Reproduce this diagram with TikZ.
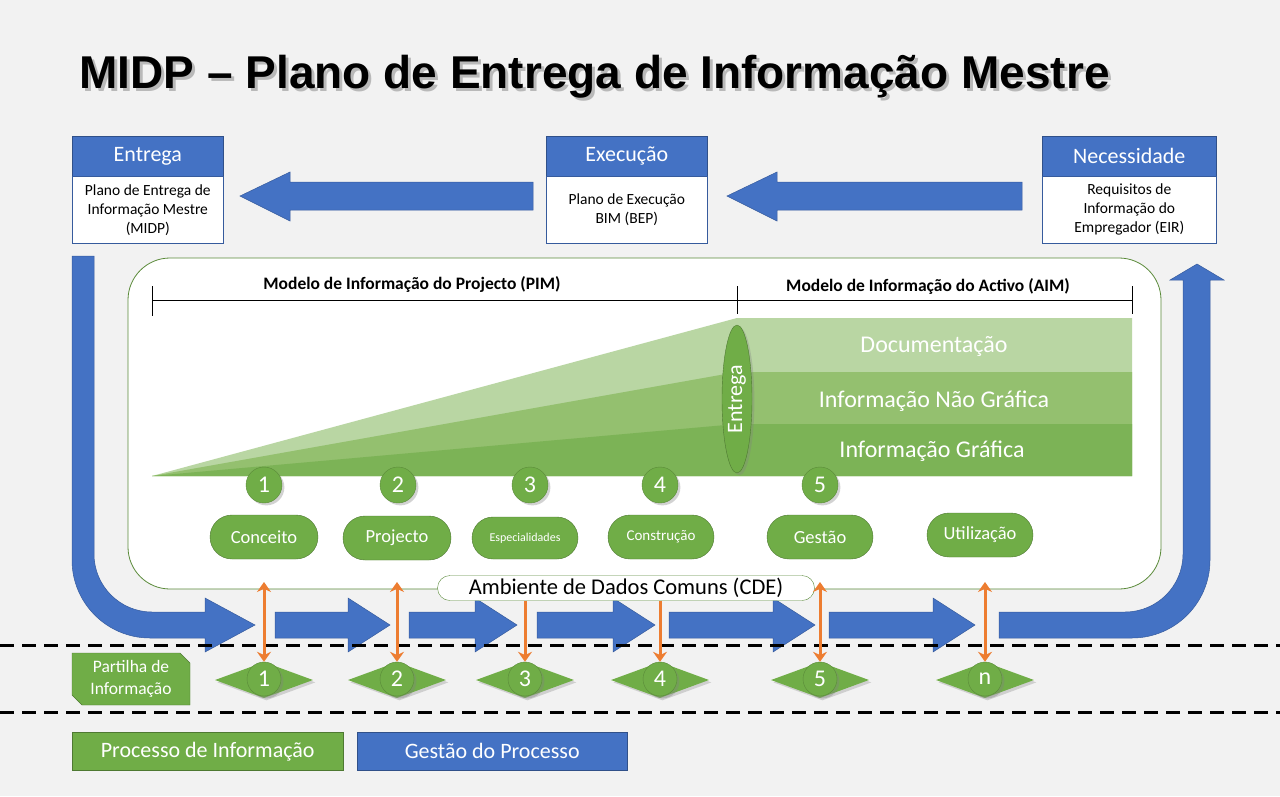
\documentclass[tikz,border=0pt]{standalone}
\usepackage{fontspec}
\setmainfont{Carlito}
\newfontfamily\titlef{Liberation Sans}
\usetikzlibrary{shapes.geometric,shapes.misc,arrows.meta,shadows}
\definecolor{bl}{HTML}{4472C4}
\definecolor{gr}{HTML}{70AD47}
\definecolor{gL}{HTML}{B9D6A3}
\definecolor{gM}{HTML}{94C06F}
\definecolor{gD}{HTML}{7CB356}
\definecolor{org}{HTML}{ED7D31}
\definecolor{bg}{HTML}{F2F2F2}
\begin{document}
\begin{tikzpicture}[x=1pt,y=-1pt,
  hdr/.style={fill=bl,draw=bl!70!black,line width=0.6pt,text=white,font=\fontsize{22}{24}\selectfont,minimum height=40pt,anchor=north west,inner sep=0pt},
  body/.style={fill=white,draw=bl!80!black,line width=0.6pt,font=\fontsize{15.5}{19}\selectfont,align=center,anchor=north west,inner sep=0pt},
  num/.style={circle,fill=gr,draw=gr!80!black,text=white,minimum size=36pt,inner sep=0pt,font=\fontsize{24}{24}\selectfont,drop shadow={opacity=0.35}},
  pill/.style={rounded rectangle,fill=gr,draw=gr!70!black,text=white,minimum height=44pt,inner sep=0pt,font=\fontsize{18.5}{20}\selectfont},
  dia/.style={diamond,fill=gr,minimum width=98pt,minimum height=36pt,inner sep=0pt,aspect=2.7,drop shadow={opacity=0.3}},
  oa/.style={org,line width=3pt,{Stealth[length=10pt,width=14pt]}-{Stealth[length=10pt,width=14pt]}},
  os/.style={org,line width=3pt,-{Stealth[length=10pt,width=14pt]}},
  blf/.style={fill=bl,draw=bl!80!black,line width=0.5pt},
  ttl/.style={anchor=west,font=\titlef\bfseries\fontsize{46}{50}\selectfont}]
\fill[bg] (0,0) rectangle (1280,796);
\useasboundingbox (0,0) rectangle (1280,796);
% title
\node[ttl,text=gray!55] (tsh) at (79,80) {MIDP – Plano de Entrega de Informação Mestre};
\node[ttl] (title) at (76,77) {MIDP – Plano de Entrega de Informação Mestre};
% top boxes
\node[hdr,minimum width=151pt] (eh) at (72,136) {Entrega};
\node[body,minimum width=151pt,minimum height=67pt] (eb) at (72,176) {Plano de Entrega de\\Informação Mestre\\(MIDP)};
\node[hdr,minimum width=161pt] (xh) at (546,136) {Execução};
\node[body,minimum width=161pt,minimum height=67pt] (xb) at (546,176) {Plano de Execução\\BIM (BEP)};
\node[hdr,minimum width=174pt] (nh) at (1042,136) {Necessidade};
\node[body,minimum width=174pt,minimum height=67pt] (nb) at (1042,176) {Requisitos de\\Informação do\\Empregador (EIR)};
% left arrows
\draw[blf] (533,182)--(290,182)--(290,172)--(240,196)--(290,221)--(290,210)--(533,210)--cycle;
\draw[blf] (1022,182)--(777,182)--(777,172)--(727,196)--(777,221)--(777,210)--(1022,210)--cycle;
% main panel
\draw[gr!80!black,fill=white,line width=0.8pt,rounded corners=42pt] (128,258) rectangle (1161,589);
% bracket
\draw[line width=1pt] (152,300)--(1132,300) (152,286)--(152,316) (737,286)--(737,314) (1132,286)--(1132,314);
\node[font=\bfseries\fontsize{17.5}{19}\selectfont] (pim) at (412,284) {Modelo de Informação do Projecto (PIM)};
\node[font=\bfseries\fontsize{17.5}{19}\selectfont] (aim) at (928,286) {Modelo de Informação do Activo (AIM)};
% wedge
\fill[gL] (152,476)--(737,318)--(1132,318)--(1132,476)--cycle;
\fill[gM] (152,476)--(737,372)--(1132,372)--(1132,476)--cycle;
\fill[gD] (152,476)--(737,424)--(1132,424)--(1132,476)--cycle;
\node[text=white,font=\fontsize{24}{26}\selectfont] (doc) at (934,346) {Documentação};
\node[text=white,font=\fontsize{24}{26}\selectfont] (ing) at (934,401) {Informação Não Gráfica};
\node[text=white,font=\fontsize{24}{26}\selectfont] (ig) at (932,451) {Informação Gráfica};
\node[ellipse,fill=gr,draw=gr!70!black,minimum width=30pt,minimum height=148pt,inner sep=0pt,drop shadow={opacity=0.3}] (ent) at (737,399) {};
\node[rotate=90,text=white,font=\fontsize{22}{24}\selectfont] (entt) at (ent) {Entrega};
% numbers
\foreach \x/\n in {264/1,398/2,530/3,660/4,820/5}{\node[num] (c\n) at (\x,485) {\n};}
\node[pill,minimum width=108pt] (p1) at (264,537) {Conceito};
\node[pill,minimum width=108pt] (p2) at (397,538) {Projecto};
\node[pill,minimum width=106pt,minimum height=42pt,font=\fontsize{12}{14}\selectfont] (p3) at (525,538) {Especialidades};
\node[pill,minimum width=106pt,font=\fontsize{15}{17}\selectfont] (p4) at (661,537) {Construção};
\node[pill,minimum width=106pt] (p5) at (820,537) {Gestão};
\node[pill,minimum width=106pt] (p6) at (980,535) {Utilização};
% blue flow arrows
\draw[blf] (72,256)--(94,256)--(94,554) arc[start angle=180,end angle=90,radius=58] --(205,612)--(205,598)--(255,625)--(205,652)--(205,638)--(150,638) arc[start angle=90,end angle=180,radius=78] --cycle;
\foreach \a/\b in {275/390,409/517,537/655,669/815,829/975}{
 \draw[blf] (\a,612)--(\b-42,612)--(\b-42,598)--(\b,625)--(\b-42,652)--(\b-42,638)--(\a,638)--cycle;}
\draw[blf] (999,612)--(1125,612) arc[start angle=90,end angle=0,radius=58] --(1183,280)--(1170,280)--(1197,264)--(1224,280)--(1210,280)--(1210,560) arc[start angle=0,end angle=90,radius=78] --(999,638)--cycle;
% CDE
\node[rounded rectangle,draw=gr!80!black,fill=white,minimum width=377pt,minimum height=25pt,inner sep=0pt,font=\fontsize{22.5}{24}\selectfont] (cde) at (626,588) {Ambiente de Dados Comuns (CDE)};
% dashed lines
\draw[line width=3pt,dash pattern=on 14pt off 8pt] (0,645)--(1280,645);
\draw[line width=3pt,dash pattern=on 14pt off 8pt] (0,712)--(1280,712);
% diamonds
\foreach \x/\n in {264/1,397/2,525/3,660/4,820/5,985/n}{
 \node[dia] (d\n) at (\x,680) {};
 \node[num,minimum size=34pt] (dc\n) at (\x,679) {\n};}
% orange arrows
\draw[oa] (264,582)--(dc1.north);
\draw[oa] (397,582)--(dc2.north);
\draw[os] (cde.south -| dc3)--(dc3.north);
\draw[os] (cde.south -| dc4)--(dc4.north);
\draw[oa] (820,582)--(dc5.north);
\draw[oa] (985,582)--(dcn.north);
% partilha
\draw[fill=gr,draw=gr!70!black] (72,653)--(180,653)--(190,663)--(190,705)--(82,705)--(72,695)--cycle;
\node[text=white,align=center,font=\fontsize{17.5}{22}\selectfont] (part) at (131,679) {Partilha de\\Informação};
% legend
\node[fill=gr,draw=gr!70!black,text=white,minimum width=271pt,minimum height=38pt,anchor=north west,inner sep=0pt,font=\fontsize{22}{24}\selectfont] (lg) at (72,732) {Processo de Informação};
\node[fill=bl,draw=bl!70!black,text=white,minimum width=270pt,minimum height=38pt,anchor=north west,inner sep=0pt,font=\fontsize{22}{24}\selectfont] (lb) at (357,732) {Gestão do Processo};
\end{tikzpicture}
\end{document}
